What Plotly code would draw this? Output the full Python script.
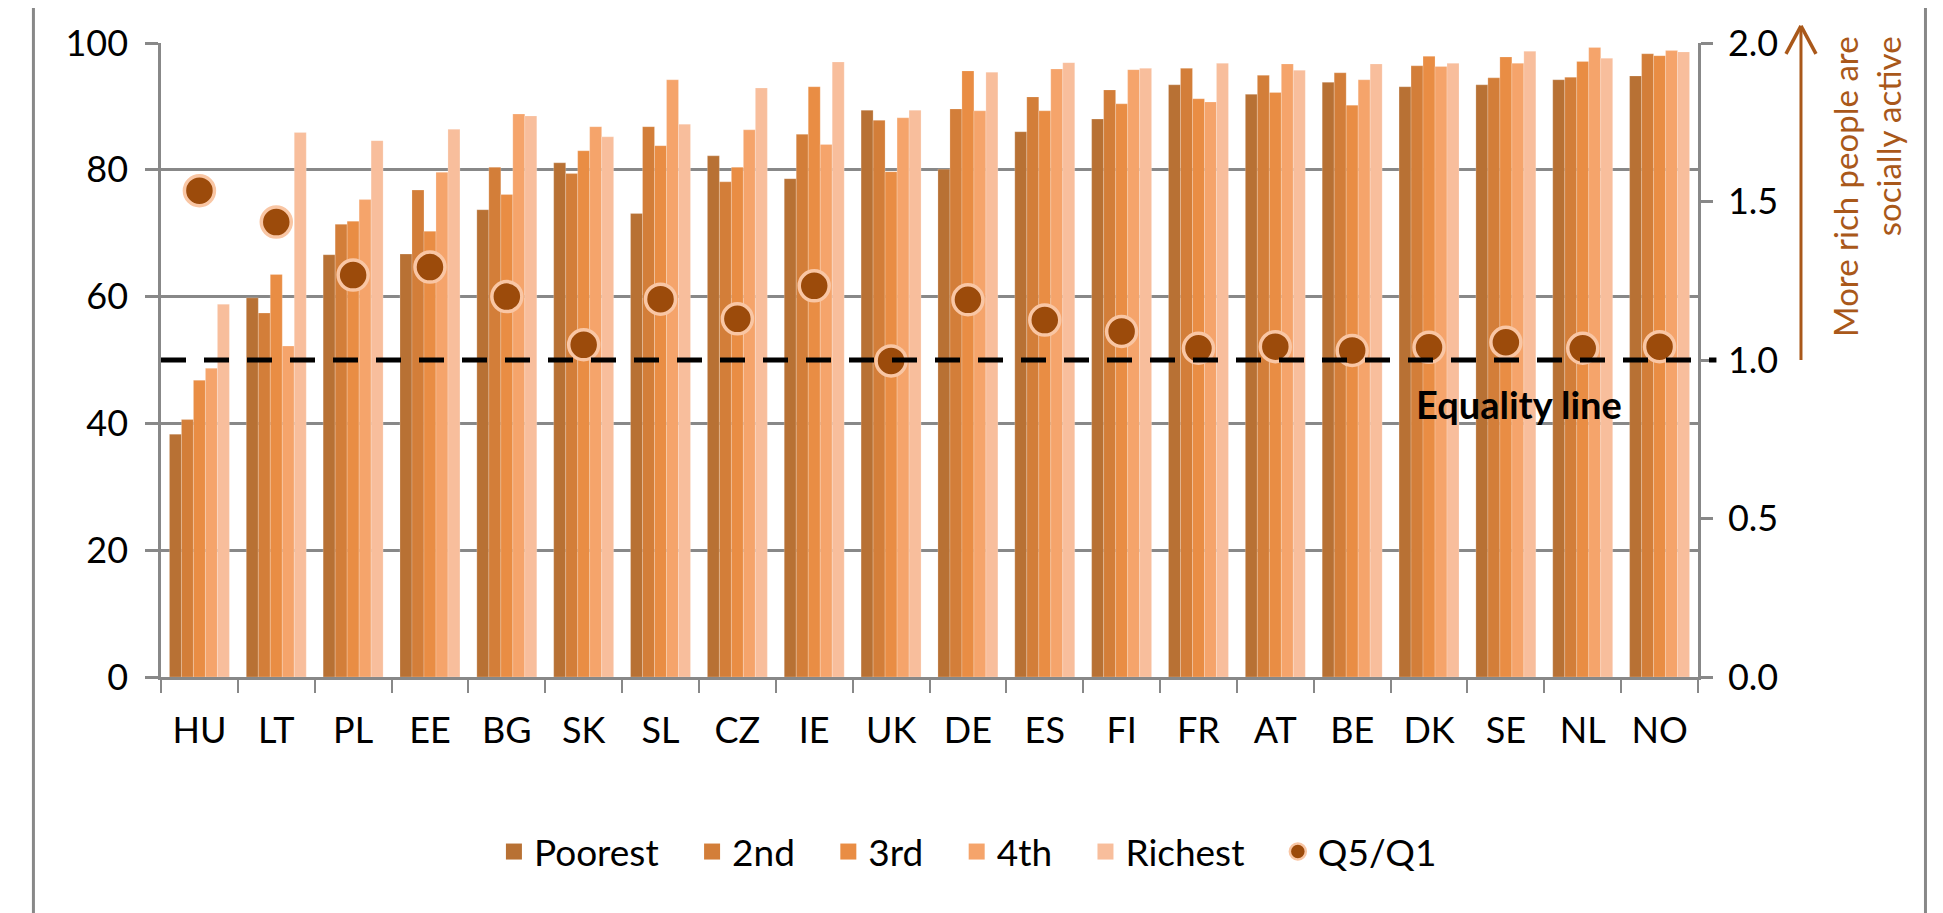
import plotly.graph_objects as go

countries = ["HU", "LT", "PL", "EE", "BG", "SK", "SL", "CZ", "IE", "UK",
             "DE", "ES", "FI", "FR", "AT", "BE", "DK", "SE", "NL", "NO"]
poorest = [38.3, 59.8, 66.6, 66.7, 73.7, 81.1, 73.1, 82.2, 78.6, 89.4,
           80.1, 86.0, 88.0, 93.4, 91.9, 93.8, 93.1, 93.4, 94.2, 94.8]
second = [40.6, 57.4, 71.4, 76.8, 80.4, 79.4, 86.8, 78.1, 85.6, 87.8,
          89.6, 91.5, 92.6, 96.0, 94.9, 95.3, 96.4, 94.5, 94.6, 98.3]
third = [46.8, 63.5, 71.9, 70.3, 76.1, 83.0, 83.8, 80.4, 93.1, 79.7,
         95.6, 89.3, 90.4, 91.2, 92.2, 90.2, 97.9, 97.8, 97.1, 98.0]
fourth = [48.7, 52.2, 75.3, 79.6, 88.8, 86.8, 94.2, 86.3, 84.0, 88.2,
          89.3, 95.9, 95.8, 90.7, 96.7, 94.2, 96.3, 96.8, 99.3, 98.8]
richest = [58.8, 85.9, 84.6, 86.4, 88.5, 85.2, 87.2, 92.9, 97.0, 89.4,
           95.4, 96.9, 96.0, 96.8, 95.7, 96.7, 96.8, 98.7, 97.6, 98.6]
ratio_q5_q1 = [1.534, 1.435, 1.268, 1.293, 1.20, 1.048, 1.192, 1.13, 1.234, 0.997,
               1.19, 1.126, 1.09, 1.037, 1.042, 1.03, 1.04, 1.056, 1.037, 1.042]

left_ticks = [0, 20, 40, 60, 80, 100]
right_ticks = [0.0, 0.5, 1.0, 1.5, 2.0]
equality_value = 1.0

series = [
    ("Poorest", poorest, "#B87134"),
    ("2nd", second, "#D37E39"),
    ("3rd", third, "#E98D44"),
    ("4th", fourth, "#F5A46B"),
    ("Richest", richest, "#F8BE9C"),
]

FONT = "Lato, Open Sans, sans-serif"
GRID = "#888888"
BROWN = "#A9581A"
PAD = "\u00a0\u00a0\u00a0"

fig = go.Figure()
for name, vals, col in series:
    fig.add_trace(go.Bar(
        x=countries, y=vals, name=name, showlegend=False,
        marker=dict(color=col, line=dict(width=0.6, color="rgba(255,255,255,0.35)")),
    ))

fig.add_trace(go.Scatter(
    x=countries, y=ratio_q5_q1, name="Q5/Q1", yaxis="y2", mode="markers",
    showlegend=False,
    marker=dict(size=30, color="#9C4B0B", line=dict(width=3.5, color="#F9C6A4")),
))

# legend entries (same styling as the marks above)
for name, vals, col in series:
    fig.add_trace(go.Scatter(
        x=[None], y=[None], name=name + PAD, mode="markers",
        marker=dict(symbol="square", size=22, color=col),
    ))
fig.add_trace(go.Scatter(
    x=[None], y=[None], name="Q5/Q1", mode="markers", yaxis="y2",
    marker=dict(size=22, color="#9C4B0B", line=dict(width=2.5, color="#F9C6A4")),
))

fig.update_layout(
    width=1935, height=905,
    margin=dict(l=153, r=245, t=35, b=236),
    paper_bgcolor="white", plot_bgcolor="white",
    font=dict(family=FONT, size=36, color="black"),
    barmode="group", bargap=0.22, bargroupgap=0,
    showlegend=True,
    legend=dict(orientation="h", x=0.525, xanchor="center", y=-0.276, yanchor="middle",
                font=dict(size=37), itemsizing="trace", traceorder="normal",
                itemwidth=30),
    xaxis=dict(
        type="category", range=[-0.5, 19.5],
        showline=True, linecolor=GRID, linewidth=2.5,
        ticks="outside", ticklen=13, tickwidth=2, tickcolor=GRID,
        tickson="boundaries", showgrid=False, ticklabelstandoff=20,
        tickfont=dict(size=36),
    ),
    yaxis=dict(
        range=[0, 100], tickvals=left_ticks,
        showline=True, linecolor=GRID, linewidth=2.5,
        showgrid=True, gridcolor=GRID, gridwidth=2.5,
        ticks="outside", ticklen=13, tickwidth=2.5, tickcolor=GRID,
        ticklabelstandoff=10, zeroline=False,
        tickfont=dict(size=36),
    ),
    yaxis2=dict(
        overlaying="y", side="right", range=[0, 2], tickvals=right_ticks,
        tickformat=".1f", showgrid=False, zeroline=False,
        showline=True, linecolor=GRID, linewidth=2.5,
        ticks="outside", ticklen=12, tickwidth=2.5, tickcolor=GRID,
        ticklabelstandoff=8, tickfont=dict(size=36),
    ),
)

fig.add_shape(type="line", xref="paper", yref="y2", x0=0, x1=1.012,
              y0=equality_value, y1=equality_value, layer="above",
              line=dict(color="black", width=5, dash="25px,18px"))

fig.add_annotation(text="<b>Equality line</b>", xref="paper", yref="paper",
                   x=0.8835, y=0.431, xanchor="center", yanchor="middle",
                   showarrow=False, font=dict(size=38, color="black", family=FONT))

# arrow on the right axis (shaft + open chevron head)
ax_x, tip_y, base_y = 1.067, 1.027, 0.5
dx, dy = 15 / 1537, 28 / 634
fig.add_shape(type="line", xref="paper", yref="paper", x0=ax_x, x1=ax_x,
              y0=base_y, y1=tip_y, line=dict(color=BROWN, width=3))
for sgn in (-1, 1):
    fig.add_shape(type="line", xref="paper", yref="paper", x0=ax_x, y0=tip_y,
                  x1=ax_x + sgn * dx, y1=tip_y - dy, line=dict(color=BROWN, width=3.5))

fig.add_annotation(text="More rich people are<br>socially active",
                   xref="paper", yref="paper", x=1.110, y=0.773,
                   xanchor="center", yanchor="middle", textangle=-90, align="right",
                   showarrow=False, font=dict(size=33, color=BROWN, family=FONT))

# chart frame
for xp in (-0.083, 1.148):
    fig.add_shape(type="line", xref="paper", yref="paper", x0=xp, x1=xp,
                  y0=-0.40, y1=1.08, line=dict(color=GRID, width=3), layer="above")

fig.write_html("out.html")
